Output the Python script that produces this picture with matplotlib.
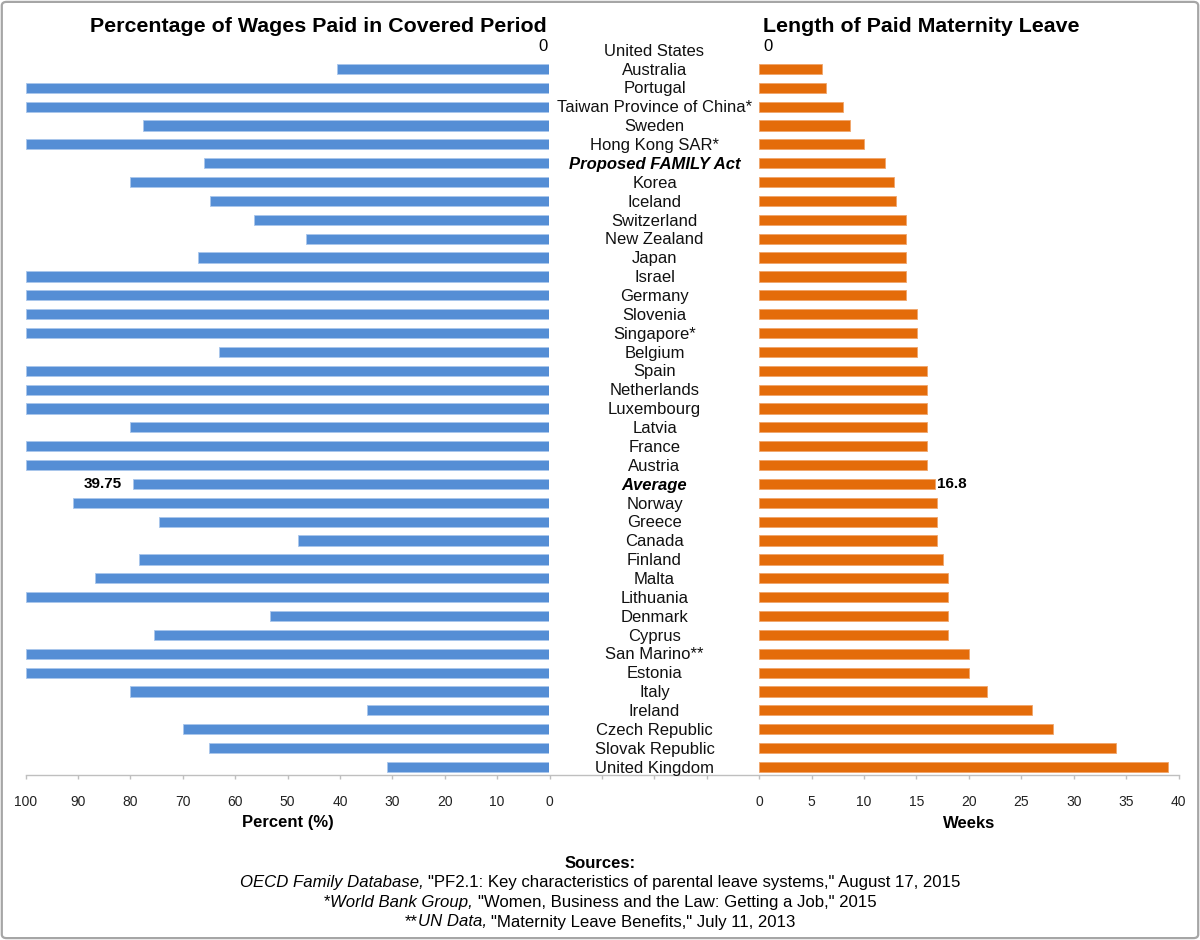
import matplotlib
matplotlib.use("Agg")
import matplotlib.pyplot as plt
from matplotlib import transforms
from matplotlib.patches import FancyBboxPatch

plt.rcParams['font.family'] = ['Liberation Sans', 'DejaVu Sans']

countries = ["United States", "Australia", "Portugal", "Taiwan Province of China*", "Sweden",
             "Hong Kong SAR*", "Proposed FAMILY Act", "Korea", "Iceland", "Switzerland",
             "New Zealand", "Japan", "Israel", "Germany", "Slovenia", "Singapore*", "Belgium",
             "Spain", "Netherlands", "Luxembourg", "Latvia", "France", "Austria", "Average",
             "Norway", "Greece", "Canada", "Finland", "Malta", "Lithuania", "Denmark", "Cyprus",
             "San Marino**", "Estonia", "Italy", "Ireland", "Czech Republic", "Slovak Republic",
             "United Kingdom"]

pct_wages = [0, 40.6, 100, 100, 77.6, 100, 66, 80, 64.8, 56.4, 46.5, 67, 100, 100, 100, 100, 63,
             100, 100, 100, 80, 100, 100, 79.5, 91, 74.5, 47.9, 78.4, 86.7, 100, 53.4, 75.4,
             100, 100, 80, 34.8, 70, 65, 31]

weeks = [0, 6, 6.4, 8, 8.7, 10, 12, 12.9, 13, 14, 14, 14, 14, 14, 15, 15, 15, 16, 16, 16, 16,
         16, 16, 16.8, 17, 17, 17, 17.5, 18, 18, 18, 18, 20, 20, 21.7, 26, 28, 34, 39]

pct_ticks = [100, 90, 80, 70, 60, 50, 40, 30, 20, 10, 0]
week_ticks = [0, 5, 10, 15, 20, 25, 30, 35, 40]
highlight = ["Proposed FAMILY Act", "Average"]
avg_pct_label = "39.75"
avg_week_label = "16.8"

BLUE = "#558ED5"
ORANGE = "#E46C0A"
AXC = "#BFBFBF"

W, H = 1200, 940
fig = plt.figure(figsize=(W / 100, H / 100), dpi=100)

def fx(px):
    return px / W

def fy(py):
    return 1 - py / H

ax_top, ax_bot = 40.6, 775.0
row0, row_step = 50.0, (767.0 - 50.0) / 38
ylo = -0.5
yhi = (ax_bot - row0) / row_step
bottom = fy(ax_bot)
height = (ax_bot - ax_top) / H

L0, L1 = 25.6, 549.4
R0, R1 = 759.3, 1178.5

# full-width base axis (line with ticks spanning the gap)
axB = fig.add_axes([fx(L0), bottom, fx(R1) - fx(L0), height], zorder=0)
axB.set_xlim(0, 22)
axB.set_xticks(range(23))
axB.set_xticklabels([])
axB.set_yticks([])
for s in ["top", "left", "right"]:
    axB.spines[s].set_visible(False)
axB.spines["bottom"].set_color(AXC)
axB.spines["bottom"].set_linewidth(1.0)
axB.tick_params(axis="x", length=3, width=1.0, color=AXC, direction="out")
axB.patch.set_alpha(0)

y = list(range(len(countries)))

axL = fig.add_axes([fx(L0), bottom, fx(L1) - fx(L0), height], zorder=2)
axL.barh(y, pct_wages, height=0.54, color=BLUE, edgecolor="#A9C6EC",
         linewidth=[0.6 if v > 0 else 0 for v in pct_wages])
axL.set_xlim(100, 0)
axL.set_ylim(yhi, ylo)

axR = fig.add_axes([fx(R0), bottom, fx(R1) - fx(R0), height], zorder=2)
axR.barh(y, weeks, height=0.54, color=ORANGE, edgecolor="#F0A56A",
         linewidth=[0.6 if v > 0 else 0 for v in weeks])
axR.set_xlim(0, 40)
axR.set_ylim(yhi, ylo)

for ax, ticks in ((axL, pct_ticks), (axR, week_ticks)):
    ax.patch.set_alpha(0)
    for s in ax.spines.values():
        s.set_visible(False)
    ax.set_yticks([])
    ax.set_xticks(ticks)
    ax.set_xticklabels([str(t) for t in ticks])
    ax.tick_params(axis="x", length=0, pad=14.5, labelsize=10, labelcolor="#222222")

# category labels in the middle
trans = transforms.blended_transform_factory(fig.transFigure, axL.transData)
for i, c in enumerate(countries):
    if c in highlight:
        fig.text(fx(654.5), i + 0.3, c, transform=trans, ha="center", va="baseline",
                 fontsize=12, fontweight="bold", style="italic", color="black")
    else:
        fig.text(fx(654.5), i + 0.3, c, transform=trans, ha="center", va="baseline",
                 fontsize=12, color="#111111")

# data labels
us = 0
ia = countries.index("Average")
axL.annotate("0", (pct_wages[us], us), xytext=(-1.5, 2.5), textcoords="offset points",
             ha="right", va="center", fontsize=12)
axR.annotate("0", (weeks[us], us), xytext=(3, 2.5), textcoords="offset points",
             ha="left", va="center", fontsize=12)
axL.annotate(avg_pct_label, (pct_wages[ia], ia), xytext=(-8, 0), textcoords="offset points",
             ha="right", va="center", fontsize=11, fontweight="bold")
axR.annotate(avg_week_label, (weeks[ia], ia), xytext=(1.5, 0), textcoords="offset points",
             ha="left", va="center", fontsize=11, fontweight="bold")

# titles
fig.text(fx(547), fy(31.5), "Percentage of Wages Paid in Covered Period", ha="right",
         va="baseline", fontsize=15.4, fontweight="bold")
fig.text(fx(763), fy(31.5), "Length of Paid Maternity Leave", ha="left",
         va="baseline", fontsize=15.4, fontweight="bold")

# axis titles
fig.text(fx((L0 + L1) / 2), fy(823), "Percent (%)", ha="center", va="center",
         fontsize=12, fontweight="bold")
fig.text(fx((R0 + R1) / 2), fy(823), "Weeks", ha="center", va="center",
         fontsize=12, fontweight="bold")

# sources
fig.text(0.5, fy(863), "Sources:", ha="center", va="center", fontsize=12, fontweight="bold")

renderer = fig.canvas.get_renderer()
SRC_FS = 12.1

def width_of(s, style):
    t = fig.text(0, 0, s, fontsize=SRC_FS, style=style)
    w = t.get_window_extent(renderer).width
    t.remove()
    return w

space_w = width_of("x x", "normal") - width_of("xx", "normal")

def mixed_line(ypx, parts):
    # parts: (text, style, space_before)
    ws = [width_of(s, st) for s, st, _ in parts]
    total = sum(ws) + sum(space_w for _, _, sp in parts if sp)
    x = W / 2 - total / 2
    for (s, st, sp), w in zip(parts, ws):
        if sp:
            x += space_w
        fig.text(fx(x), fy(ypx), s, ha="left", va="center", fontsize=SRC_FS, style=st)
        x += w

mixed_line(882, [("OECD Family Database,", "italic", False),
                 ('"PF2.1: Key characteristics of parental leave systems," August 17, 2015', "normal", True)])
mixed_line(902, [("*", "normal", False), ("World Bank Group,", "italic", False),
                 ('"Women, Business and the Law: Getting a Job," 2015', "normal", True)])
mixed_line(922, [("**", "normal", False), ("UN Data,", "italic", False),
                 ('"Maternity Leave Benefits," July 11, 2013', "normal", True)])

# outer frame
fig.patches.append(FancyBboxPatch((0.0015, 0.002), 0.997, 0.996,
                                  boxstyle="round,pad=0,rounding_size=0.004",
                                  transform=fig.transFigure, fill=False,
                                  edgecolor="#A6A6A6", linewidth=1.6))

fig.savefig("out.png", dpi=100, facecolor="white")
